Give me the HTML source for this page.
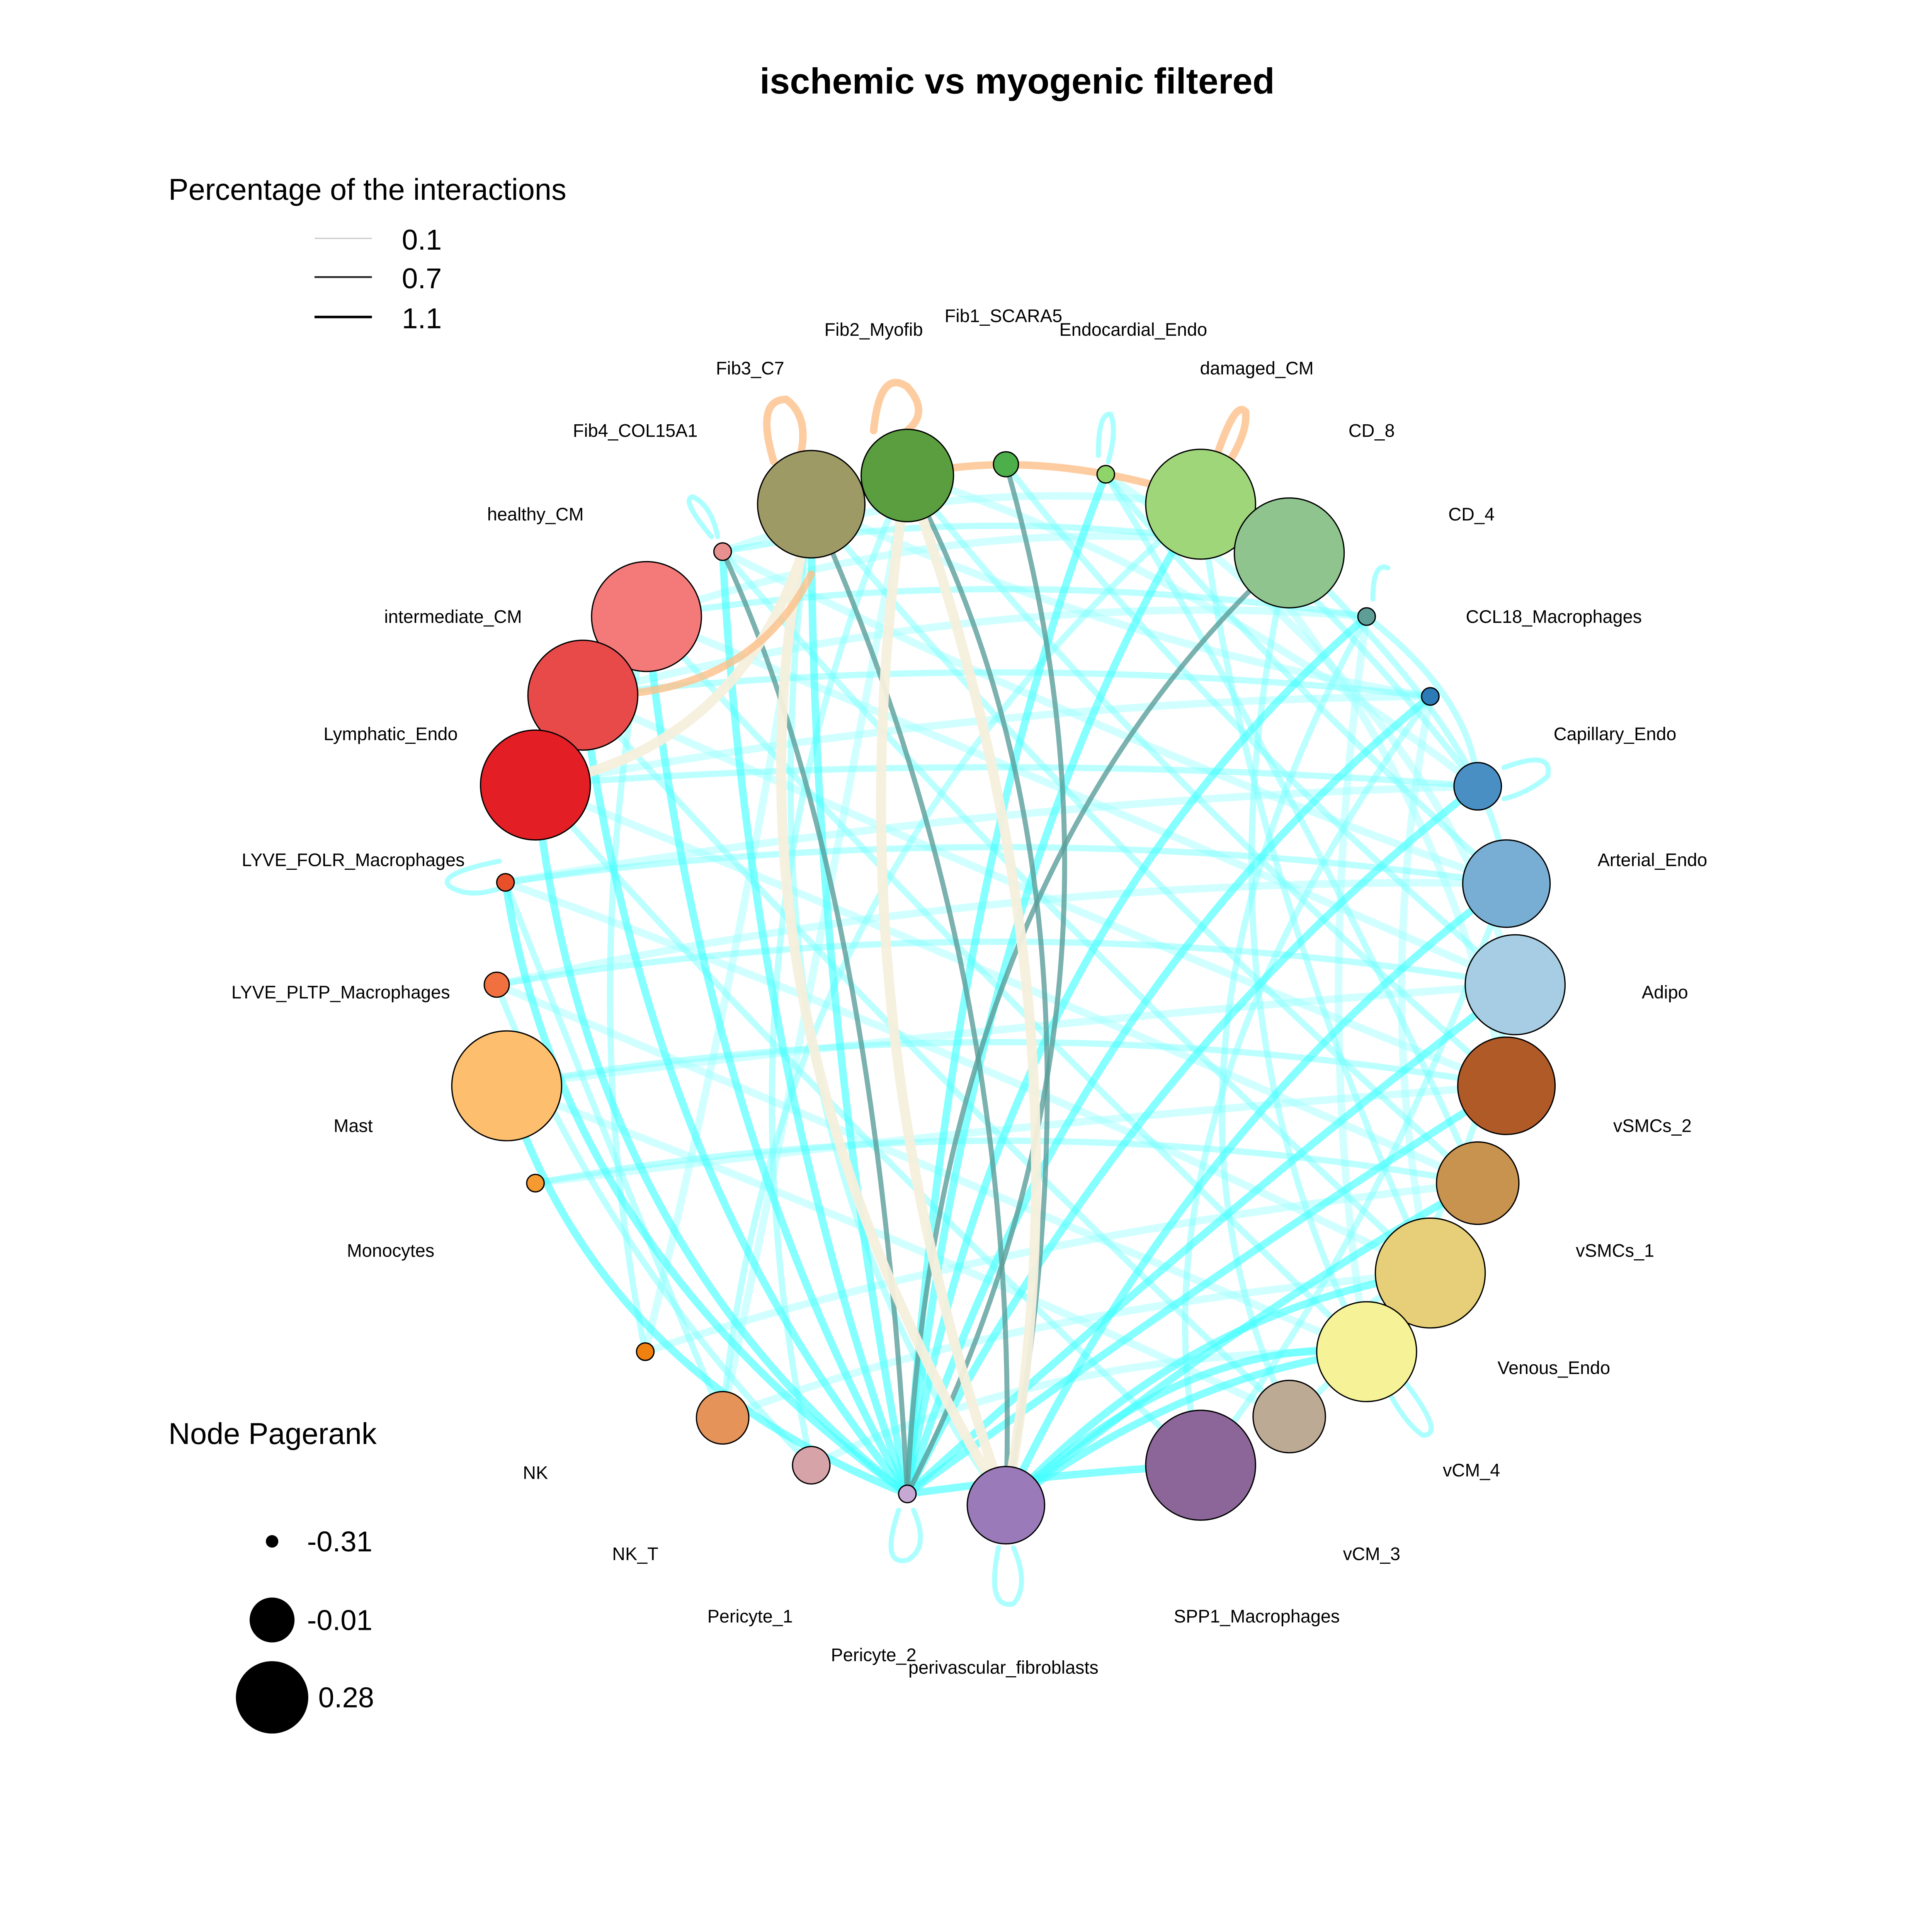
<!DOCTYPE html>
<html><head><meta charset="utf-8"><style>
html,body{margin:0;padding:0;background:#fff;overflow:hidden}
svg{display:block;width:100vw;height:100vh}
text{font-family:"Liberation Sans",sans-serif}
</style></head><body>
<svg viewBox="0 0 1548 1548" preserveAspectRatio="none" xmlns="http://www.w3.org/2000/svg">
<rect width="1548" height="1548" fill="#fff"/>
<text x="815" y="75" font-size="29" font-weight="bold" text-anchor="middle">ischemic vs myogenic filtered</text>
<text x="135" y="160" font-size="24">Percentage of the interactions</text>
<line x1="252" y1="191" x2="298" y2="191" stroke="#ccc" stroke-width="1"/>
<line x1="252" y1="222" x2="298" y2="222" stroke="#222" stroke-width="1.4"/>
<line x1="252" y1="254" x2="298" y2="254" stroke="#000" stroke-width="2"/>
<text x="322" y="200" font-size="23">0.1</text>
<text x="322" y="231" font-size="23">0.7</text>
<text x="322" y="263" font-size="23">1.1</text>
<text x="135" y="1157" font-size="24">Node Pagerank</text>
<circle cx="218" cy="1235" r="5"/><circle cx="218" cy="1298" r="18"/><circle cx="218" cy="1360" r="29"/>
<text x="246" y="1243" font-size="23">-0.31</text>
<text x="246" y="1306" font-size="23">-0.01</text>
<text x="255" y="1368" font-size="23">0.28</text>

<g fill="none" stroke-linecap="round">
<g stroke="#9ff" stroke-opacity="0.45" stroke-width="6">
<path d="M579 442 Q750 380 962 404"/><path d="M518 494 Q800 400 1033 443"/><path d="M467 557 Q800 470 1095 494"/>
<path d="M429 629 Q800 560 1146 558"/><path d="M405 707 Q800 640 1184 630"/><path d="M398 789 Q800 700 1207 708"/>
<path d="M406 870 Q800 820 1214 789"/><path d="M429 948 Q800 900 1207 870"/><path d="M517 1083 Q800 990 1184 948"/>
<path d="M579 1136 Q800 1050 1146 1020"/><path d="M650 1174 Q850 1080 1095 1083"/><path d="M650 404 Q600 750 517 1083"/>
<path d="M727 381 Q650 800 579 1136"/><path d="M1146 558 Q1100 800 1146 1020"/><path d="M1095 494 Q1050 800 1095 1083"/>
<path d="M962 404 Q1150 600 1207 870"/><path d="M886 380 Q1150 560 1214 789"/>
<path d="M579 442 Q900 600 1207 708"/><path d="M518 494 Q900 650 1214 789"/><path d="M467 557 Q900 750 1207 870"/>
<path d="M429 629 Q850 800 1184 948"/><path d="M405 707 Q800 850 1146 1020"/><path d="M398 789 Q780 950 1095 1083"/>
<path d="M406 870 Q750 1000 1033 1135"/><path d="M650 404 Q900 520 1146 558"/><path d="M727 381 Q950 450 1184 630"/>
</g>
<g stroke="#7ff" stroke-opacity="0.5" stroke-width="5">
<path d="M1184 630 Q1060 470 962 404"/><path d="M1207 708 Q1000 520 886 380"/><path d="M1214 789 Q950 560 806 372"/>
<path d="M1207 870 Q900 600 727 381"/><path d="M1184 948 Q850 650 650 404"/><path d="M1146 1020 Q800 700 579 442"/>
<path d="M1095 1083 Q760 760 518 494"/><path d="M1033 1135 Q700 820 467 557"/><path d="M962 1174 Q650 880 429 629"/>
<path d="M429 629 Q800 600 1184 630"/><path d="M405 707 Q800 650 1207 708"/><path d="M398 789 Q800 720 1214 789"/>
<path d="M406 870 Q800 800 1207 870"/><path d="M429 948 Q800 880 1184 948"/><path d="M467 557 Q800 520 1146 558"/>
<path d="M518 494 Q800 450 1095 494"/><path d="M579 442 Q800 400 1033 443"/><path d="M1146 558 Q900 900 962 1174"/>
<path d="M1095 494 Q900 850 1033 1135"/><path d="M1033 443 Q950 800 1095 1083"/><path d="M962 404 Q1000 700 1146 1020"/>
<path d="M886 380 Q1050 650 1184 948"/><path d="M405 707 Q500 950 579 1136"/><path d="M398 789 Q480 1000 650 1174"/>
<path d="M1207 708 Q1100 1000 962 1174"/><path d="M1214 789 Q1150 1050 1033 1135"/><path d="M518 494 Q460 800 517 1083"/>
<path d="M1033 443 Q1200 600 1207 708"/><path d="M1095 494 Q1180 560 1184 630"/><path d="M1146 1020 Q1050 1060 1095 1083"/>
<path d="M650 404 Q580 900 806 1206"/><path d="M727 381 Q560 750 650 1174"/><path d="M962 404 Q620 700 579 1136"/>
</g>
<g stroke="#4ff" stroke-opacity="0.65" stroke-width="6">
<path d="M429 629 Q470 1000 727 1197"/><path d="M467 557 Q520 950 727 1197"/><path d="M518 494 Q560 900 727 1197"/>
<path d="M579 442 Q600 850 727 1197"/><path d="M650 404 Q650 800 727 1197"/><path d="M405 707 Q450 1000 727 1197"/>
<path d="M406 870 Q480 1100 727 1197"/><path d="M1184 630 Q900 850 727 1197"/><path d="M1146 558 Q850 800 727 1197"/>
<path d="M1095 494 Q800 750 727 1197"/><path d="M962 404 Q780 700 727 1197"/><path d="M886 380 Q760 700 727 1197"/>
<path d="M1207 708 Q950 900 806 1206"/><path d="M1146 1020 Q950 1050 806 1206"/><path d="M1095 1083 Q950 1100 806 1206"/>
<path d="M806 1206 Q950 1070 1095 1083"/><path d="M1214 789 Q1000 950 727 1197"/><path d="M1207 870 Q1000 1000 727 1197"/>
<path d="M962 1174 Q850 1180 727 1197"/><path d="M1184 948 Q1000 1050 806 1206"/>
</g>
<g stroke="#5a9e9a" stroke-opacity="0.8" stroke-width="4">
<path d="M806 372 Q930 800 727 1197"/><path d="M650 404 Q820 780 806 1206"/><path d="M727 381 Q900 700 806 1206"/>
<path d="M579 442 Q700 700 727 1197"/><path d="M1033 443 Q750 700 727 1197"/>
</g>
<g stroke="#f5efdc" stroke-opacity="0.95" stroke-width="8">
<path d="M650 404 Q560 800 806 1206"/><path d="M727 381 Q880 800 806 1206"/><path d="M806 1206 Q660 800 727 381"/>
<path d="M429 629 Q600 600 650 420"/>
</g>
<g stroke="#fdc08a" stroke-opacity="0.8" stroke-width="6">
<path d="M727 381 Q820 360 930 390"/><path d="M467 557 Q600 560 650 460"/>
<path d="M700 345 Q705 295 727 310 Q745 330 727 345"/><path d="M620 370 Q605 320 630 320 Q650 335 640 370"/>
<path d="M975 365 Q990 320 998 330 Q1000 345 985 370"/>
</g>
<g stroke="#7ff" stroke-opacity="0.6" stroke-width="4">
<path d="M720 1210 Q705 1255 727 1250 Q745 1240 732 1210"/><path d="M800 1240 Q790 1290 812 1285 Q825 1270 812 1240"/>
<path d="M1120 1100 Q1160 1150 1140 1150 Q1125 1140 1110 1110"/><path d="M1205 615 Q1245 600 1240 622 Q1225 635 1205 640"/>
<path d="M400 690 Q350 700 360 710 Q375 720 400 712"/><path d="M570 430 Q545 400 555 398 Q570 405 575 430"/>
<path d="M880 365 Q880 330 890 332 Q895 345 888 370"/><path d="M1100 480 Q1100 450 1112 455"/>
</g>
</g>

<g stroke="#000" stroke-width="1">
<circle cx="806" cy="372" r="10" fill="#4daf4a"/><circle cx="886" cy="380" r="7" fill="#8fd46a"/>
<circle cx="727" cy="381" r="37" fill="#5a9e3f"/><circle cx="650" cy="404" r="43" fill="#9e9a66"/>
<circle cx="962" cy="404" r="44" fill="#a0d67a"/><circle cx="1033" cy="443" r="44" fill="#8fc48f"/>
<circle cx="579" cy="442" r="7" fill="#e89090"/><circle cx="1095" cy="494" r="7" fill="#5f9e96"/>
<circle cx="518" cy="494" r="44" fill="#f47a7a"/><circle cx="1146" cy="558" r="7" fill="#2c7bb6"/>
<circle cx="467" cy="557" r="44" fill="#e84a4a"/><circle cx="1184" cy="630" r="19" fill="#4a8fc4"/>
<circle cx="429" cy="629" r="44" fill="#e31e24"/><circle cx="1207" cy="708" r="35" fill="#78aed3"/>
<circle cx="405" cy="707" r="7" fill="#e8502a"/><circle cx="1214" cy="789" r="40" fill="#a6cde3"/>
<circle cx="398" cy="789" r="10" fill="#f07040"/><circle cx="1207" cy="870" r="39" fill="#b05a28"/>
<circle cx="406" cy="870" r="44" fill="#fdbe6e"/><circle cx="1184" cy="948" r="33" fill="#c8924f"/>
<circle cx="429" cy="948" r="7" fill="#f59a30"/><circle cx="1146" cy="1020" r="44" fill="#e6cf78"/>
<circle cx="517" cy="1083" r="7" fill="#f08010"/><circle cx="1095" cy="1083" r="40" fill="#f5f298"/>
<circle cx="579" cy="1136" r="21" fill="#e6935a"/><circle cx="1033" cy="1135" r="29" fill="#bdaa95"/>
<circle cx="650" cy="1174" r="15" fill="#d6a4a8"/><circle cx="962" cy="1174" r="44" fill="#8c6699"/>
<circle cx="727" cy="1197" r="7" fill="#c7a8d4"/><circle cx="806" cy="1206" r="31" fill="#9a7ab8"/>
</g>

<g font-size="14.5" text-anchor="middle">
<text x="804" y="258">Fib1_SCARA5</text><text x="908" y="269">Endocardial_Endo</text>
<text x="700" y="269">Fib2_Myofib</text><text x="601" y="300">Fib3_C7</text>
<text x="1007" y="300">damaged_CM</text><text x="509" y="350">Fib4_COL15A1</text>
<text x="1099" y="350">CD_8</text><text x="429" y="417">healthy_CM</text>
<text x="1179" y="417">CD_4</text><text x="363" y="499">intermediate_CM</text>
<text x="1245" y="499">CCL18_Macrophages</text><text x="313" y="593">Lymphatic_Endo</text>
<text x="1294" y="593">Capillary_Endo</text><text x="283" y="694">LYVE_FOLR_Macrophages</text>
<text x="1324" y="694">Arterial_Endo</text><text x="273" y="800">LYVE_PLTP_Macrophages</text>
<text x="1334" y="800">Adipo</text><text x="283" y="907">Mast</text>
<text x="1324" y="907">vSMCs_2</text><text x="313" y="1007">Monocytes</text>
<text x="1294" y="1007">vSMCs_1</text><text x="1245" y="1101">Venous_Endo</text>
<text x="429" y="1185">NK</text><text x="1179" y="1183">vCM_4</text>
<text x="509" y="1250">NK_T</text><text x="1099" y="1250">vCM_3</text>
<text x="601" y="1300">Pericyte_1</text><text x="1007" y="1300">SPP1_Macrophages</text>
<text x="700" y="1331">Pericyte_2</text><text x="804" y="1341">perivascular_fibroblasts</text>
</g>
</svg>
</body></html>
